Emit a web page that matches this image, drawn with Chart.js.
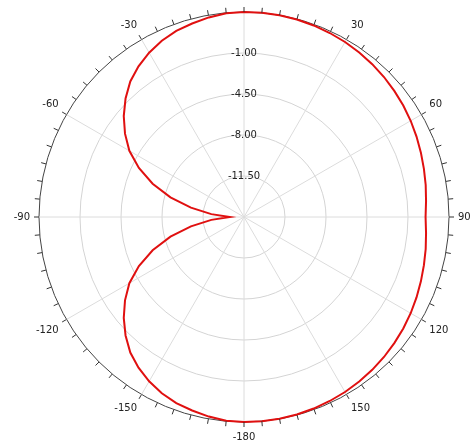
<!DOCTYPE html>
<html>
<head>
<script src="https://cdn.jsdelivr.net/npm/chart.js@4"></script>
<style>
  body { margin: 0; background: #fff; overflow: hidden; }
  #wrap { width: 474px; height: 452px; margin-top: -9px; }
</style>
</head>
<body>
<div id="wrap"><canvas id="polar"></canvas></div>
<script>
// angles every 5 degrees, clockwise from top
const angles = [];
for (let a = 0; a < 360; a += 5) angles.push(a);
const angleLabels = angles.map(a => (a % 30 === 0 ? String(a <= 180 ? (a === 180 ? -180 : a) : a - 360) : ''));

// gain in dB
const gain = [
  2.5, 2.5, 2.48, 2.45, 2.4, 2.33, 2.25, 2.15, 2.03, 1.9, 1.75, 1.6, 1.43, 1.25, 1.07, 0.9, 0.75, 0.6, 0.5,
  0.6, 0.75, 0.9, 1.07, 1.25, 1.43, 1.6, 1.75, 1.9, 2.03, 2.15, 2.25, 2.33, 2.4, 2.45, 2.48, 2.5,
  2.5,
  2.45, 2.3, 2.1, 1.9, 1.6, 1.2, 0.7, 0.1, -0.7, -1.6, -2.6, -3.7, -5.1, -6.7, -8.5, -10.4, -12.2,
  -13.8,
  -12.2, -10.4, -8.5, -6.7, -5.1, -3.7, -2.6, -1.6, -0.7, 0.1, 0.7, 1.2, 1.6, 1.9, 2.1, 2.3, 2.45
];
const rMin = -15, rMax = 2.5, rStep = 3.5;

// small tick marks on the outer ring
const outerTicks = {
  id: 'outerTicks',
  afterDraw(chart) {
    const s = chart.scales.r;
    const c = chart.ctx;
    c.save();
    c.strokeStyle = '#333';
    c.lineWidth = 1;
    for (let i = 0; i < angles.length; i++) {
      const ang = s.getIndexAngle(i) - Math.PI / 2;
      const r0 = s.drawingArea, r1 = r0 + 5;
      c.beginPath();
      c.moveTo(s.xCenter + Math.cos(ang) * r0, s.yCenter + Math.sin(ang) * r0);
      c.lineTo(s.xCenter + Math.cos(ang) * r1, s.yCenter + Math.sin(ang) * r1);
      c.stroke();
    }
    c.restore();
  }
};

new Chart(document.getElementById('polar'), {
  type: 'radar',
  data: {
    labels: angleLabels,
    datasets: [{
      data: gain,
      borderColor: '#e01010',
      borderWidth: 2,
      pointRadius: 0,
      fill: false,
      tension: 0
    }]
  },
  options: {
    responsive: true,
    maintainAspectRatio: false,
    animation: false,
    layout: { padding: { top: 0, bottom: 0, left: 12, right: 0 } },
    plugins: { legend: { display: false }, tooltip: { enabled: false } },
    scales: {
      r: {
        min: rMin,
        max: rMax,
        ticks: {
          stepSize: rStep,
          showLabelBackdrop: false,
          color: '#222',
          font: { family: 'DejaVu Sans', size: 10 },
          callback: v => (v === rMin || v === rMax ? '' : v.toFixed(2))
        },
        grid: {
          circular: true,
          color: ctx => (ctx.index === 5 ? '#444' : '#d4d4d4')
        },
        angleLines: {
          color: ctx => (ctx.index % 6 === 0 ? '#dcdcdc' : 'rgba(0,0,0,0)')
        },
        pointLabels: {
          color: '#222',
          padding: 2,
          font: { family: 'DejaVu Sans', size: 10 }
        }
      }
    }
  },
  plugins: [outerTicks]
});
</script>
</body>
</html>
